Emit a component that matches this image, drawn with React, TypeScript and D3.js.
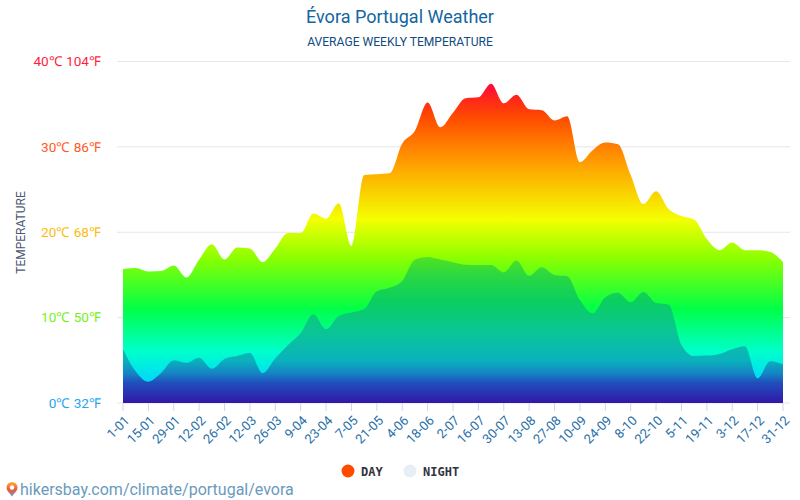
import React from 'react';
import * as d3 from 'd3';

const tickLabels = ['1-01', '15-01', '29-01', '12-02', '26-02', '12-03', '26-03', '9-04', '23-04', '7-05', '21-05', '4-06', '18-06', '2-07', '16-07', '30-07', '13-08', '27-08', '10-09', '24-09', '8-10', '22-10', '5-11', '19-11', '3-12', '17-12', '31-12'];

// weekly values, two per tick label
const dayTemps = [15.7, 15.8, 15.4, 15.45, 16.1, 14.7, 16.8, 18.6, 16.8, 18.2, 18.1, 16.5, 18.1, 19.9, 19.9, 22.2, 21.6, 23.4, 18.4, 26.7, 26.8, 26.9, 30.4, 31.9, 35.2, 32.3, 34, 35.7, 35.8, 37.4, 35.1, 36.1, 34.4, 34.3, 33.1, 33.6, 28.2, 29.6, 30.5, 30.3, 26.7, 23.3, 24.8, 22.7, 21.9, 21.5, 19.2, 17.9, 18.8, 17.9, 17.9, 17.7, 16.5];
const nightTemps = [6.3, 3.7, 2.5, 3.5, 5, 4.7, 5.3, 4, 5.15, 5.5, 5.85, 3.5, 5.25, 6.8, 8.2, 10.4, 8.65, 10.2, 10.6, 11, 13.1, 13.5, 14.3, 16.8, 17.1, 16.8, 16.5, 16.2, 16.15, 16.15, 15.3, 16.7, 14.9, 15.9, 15, 14.85, 12.05, 10.5, 12.4, 12.9, 11.8, 13, 11.7, 11.5, 6.8, 5.5, 5.55, 5.75, 6.3, 6.65, 2.9, 4.9, 4.55];

const yTicks = [0, 10, 20, 30, 40];
const yTickLabels = ['0℃ 32℉', '10℃ 50℉', '20℃ 68℉', '30℃ 86℉', '40℃ 104℉'];
const yTickColors = ['#29a5ee', '#76f01a', '#fdbb12', '#ff5a26', '#ff1f3d'];

const dayStops: [number, string][] = [
  [38, '#ff0050'],
  [36, '#ff2020'],
  [33.5, '#ff4a00'],
  [28, '#ffa000'],
  [21.5, '#f4ff00'],
  [17, '#8cff00'],
  [11, '#00ff48'],
  [6, '#00ffcc'],
  [3, '#00dcf5'],
  [0, '#00c8ff'],
];
const nightStops: [number, string][] = [
  [17.5, '#58e41c'],
  [15, '#2cd840'],
  [12, '#0acf5e'],
  [8, '#0ac49a'],
  [5, '#09b2bc'],
  [3.4, '#1682c4'],
  [2.4, '#2050bc'],
  [0, '#3118a8'],
];

const width = 800;
const height = 500;
const plotLeft = 123;
const plotRight = 783;
const x = d3.scaleLinear().domain([0, dayTemps.length - 1]).range([plotLeft, plotRight]);
const y = d3.scaleLinear().domain([0, 40]).range([403, 61.5]);

const font = 'Roboto, sans-serif';

const App: React.FC = () => {
  const area = d3.area<number>()
    .x((_, i) => x(i))
    .y0(y(0))
    .y1(d => y(d))
    .curve(d3.curveMonotoneX);

  const gradient = (id: string, stops: [number, string][]) => (
    <linearGradient id={id} gradientUnits="userSpaceOnUse" x1={0} x2={0} y1={y(stops[0][0])} y2={y(0)}>
      {stops.map(([v, c]) => (
        <stop key={v} offset={(y(v) - y(stops[0][0])) / (y(0) - y(stops[0][0]))} stopColor={c} />
      ))}
    </linearGradient>
  );

  return (
    <svg width={width} height={height} style={{ position: 'fixed', top: 0, left: 0, background: '#fff' }}>
      <defs>
        {gradient('dayFill', dayStops)}
        {gradient('nightFill', nightStops)}
        <linearGradient id="pinFill" x1={0} x2={0} y1={0} y2={1}>
          <stop offset={0} stopColor="#f7b52c" />
          <stop offset={0.5} stopColor="#ee5a3a" />
          <stop offset={1} stopColor="#6f9bb8" />
        </linearGradient>
      </defs>

      <text x={400} y={23} textAnchor="middle" fontFamily={font} fontSize={18} fill="#14659f">Évora Portugal Weather</text>
      <text x={400} y={46} textAnchor="middle" fontFamily={font} fontSize={12.1} fill="#0f4c81">AVERAGE WEEKLY TEMPERATURE</text>

      {yTicks.map((t, i) => (
        <g key={t}>
          <line x1={117} x2={790} y1={y(t)} y2={y(t)} stroke="#e6e6e6" />
          <text x={101} y={y(t)} dy="0.35em" textAnchor="end" fontFamily={font} fontSize={13.6} fill={yTickColors[i]}>{yTickLabels[i]}</text>
        </g>
      ))}
      <text transform={`translate(25,232.5) rotate(-90)`} textAnchor="middle" fontFamily={font} fontSize={12} fill="#4d5873">TEMPERATURE</text>

      <path d={area(dayTemps) ?? ''} fill="url(#dayFill)" />
      <path d={area(nightTemps) ?? ''} fill="url(#nightFill)" />

      {tickLabels.map((label, i) => {
        const tx = x(i * 2);
        return (
          <g key={label}>
            <line x1={tx} x2={tx} y1={403} y2={411} stroke="#ccd6eb" />
            <text transform={`translate(${tx + 4},${418}) rotate(-45)`} dy="0.35em" textAnchor="end" fontFamily={font} fontSize={13} fill="#1f6ea8">{label}</text>
          </g>
        );
      })}

      <circle cx={348} cy={471} r={6.5} fill="#ff4a00" />
      <text x={361} y={475.5} fontFamily="'DejaVu Sans Mono', monospace" fontWeight="bold" fontSize={12} fill="#333340">DAY</text>
      <circle cx={410} cy={471} r={6.5} fill="#e8eef5" />
      <text x={423} y={475.5} fontFamily="'DejaVu Sans Mono', monospace" fontWeight="bold" fontSize={12} fill="#333340">NIGHT</text>

      <path d="M12 482 a5.5 5.5 0 0 1 5.5 5.5 c0 3.5 -3.5 6 -5.5 9 c-2 -3 -5.5 -5.5 -5.5 -9 a5.5 5.5 0 0 1 5.5 -5.5 z" fill="url(#pinFill)" />
      <circle cx={12} cy={487.5} r={2.2} fill="#fff" />
      <text x={20} y={495} fontFamily={font} fontSize={16} fill="#6a9abd">hikersbay.com/climate/portugal/evora</text>
    </svg>
  );
};

export default App;
